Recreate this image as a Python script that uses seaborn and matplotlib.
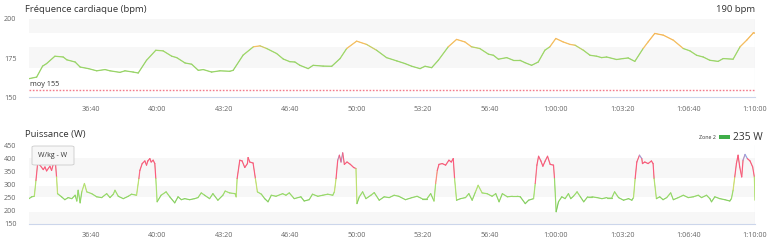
import numpy as np
import pandas as pd
import matplotlib
matplotlib.use("Agg")
import matplotlib.pyplot as plt
import seaborn as sns
from matplotlib.collections import LineCollection
from matplotlib.colors import LinearSegmentedColormap, Normalize
from matplotlib.patches import Rectangle, FancyBboxPatch

# ---------------- data ----------------
hr_time = [2013, 2036, 2054, 2066, 2091, 2116, 2127, 2152, 2167, 2192, 2217, 2242, 2257, 2287,
           2302, 2327, 2342, 2367, 2395, 2417, 2443, 2458, 2483, 2503, 2523, 2538, 2563, 2588,
           2618, 2628, 2658, 2689, 2709, 2729, 2759, 2779, 2799, 2814, 2829, 2854, 2869, 2899,
           2925, 2950, 2970, 3000, 3030, 3060, 3090, 3121, 3146, 3166, 3191, 3206, 3226, 3246,
           3276, 3301, 3326, 3346, 3371, 3397, 3412, 3427, 3452, 3472, 3492, 3507, 3527, 3547,
           3567, 3582, 3600, 3622, 3643, 3658, 3683, 3703, 3723, 3738, 3753, 3783, 3803, 3818,
           3838, 3863, 3878, 3898, 3924, 3954, 3984, 4004, 4024, 4044, 4064, 4089, 4104, 4134,
           4155, 4175, 4195, 4200]
hr_bpm = [162, 163, 170, 171.6, 176.3, 175.8, 174, 172.6, 169.4, 168.4, 167, 167.8, 167, 166,
          167, 166.2, 165.6, 173.7, 180.1, 179.7, 176.3, 175.4, 172, 171.2, 167.3, 167.8, 166.2, 167,
          166.7, 167.3, 177, 182.3, 182.9, 181.2, 178, 174.5, 172.8, 172.6, 170.5, 168.4, 170.5, 170,
          169.9, 174.8, 181.2, 185.9, 183.8, 180.1, 175.4, 173.3, 171.6, 169.9, 168.4, 169.9, 169, 173.7,
          182.3, 187, 185.4, 182.3, 181.2, 177.6, 176.9, 174.4, 175.4, 173.7, 173.7, 172.2, 170.5, 172.6,
          180.1, 182.3, 187.6, 185.4, 183.8, 183.3, 180.1, 176.9, 176.3, 175.4, 175.8, 174.2, 174.8, 175.2,
          173, 181.2, 185.4, 190.8, 189.7, 186.5, 181.2, 179.7, 176.9, 175.8, 173.7, 173, 174.8, 174.4,
          182.3, 186.5, 191.2, 191]

pw_time = [2013, 2021, 2029, 2034, 2039, 2046, 2056, 2061, 2066, 2076, 2081, 2086, 2093, 2096,
           2099, 2111, 2121, 2131, 2142, 2152, 2157, 2161, 2167, 2172, 2180, 2187, 2202, 2217,
           2232, 2247, 2257, 2267, 2272, 2282, 2297, 2312, 2322, 2337, 2344, 2347, 2354, 2362,
           2367, 2371, 2377, 2381, 2387, 2392, 2395, 2399, 2411, 2426, 2437, 2452, 2462, 2472,
           2482, 2497, 2512, 2522, 2532, 2542, 2557, 2567, 2582, 2597, 2604, 2617, 2634, 2637,
           2640, 2648, 2655, 2663, 2671, 2673, 2678, 2688, 2695, 2701, 2713, 2723, 2733, 2743,
           2757, 2777, 2787, 2797, 2812, 2832, 2842, 2857, 2867, 2883, 2898, 2913, 2928, 2933,
           2938, 2943, 2948, 2953, 2958, 2963, 2971, 2981, 2991, 2998, 3001, 3008, 3018, 3028,
           3043, 3053, 3068, 3083, 3098, 3113, 3127, 3147, 3167, 3182, 3197, 3212, 3223, 3233,
           3238, 3243, 3248, 3258, 3268, 3278, 3285, 3291, 3295, 3301, 3313, 3328, 3338, 3348,
           3358, 3366, 3378, 3393, 3408, 3419, 3429, 3439, 3454, 3469, 3484, 3493, 3508, 3518,
           3533, 3538, 3543, 3548, 3555, 3561, 3568, 3575, 3583, 3593, 3596, 3601, 3608, 3618,
           3628, 3638, 3645, 3653, 3664, 3674, 3684, 3696, 3709, 3724, 3739, 3754, 3769, 3777,
           3789, 3804, 3819, 3829, 3834, 3839, 3844, 3852, 3859, 3861, 3868, 3878, 3888, 3893,
           3896, 3903, 3913, 3923, 3934, 3946, 3954, 3969, 3984, 3999, 4014, 4029, 4039, 4054,
           4064, 4069, 4079, 4094, 4109, 4124, 4129, 4134, 4139, 4144, 4149, 4154, 4160, 4164,
           4170, 4177, 4185, 4193, 4198, 4200]
pw_watts = [245, 252, 254, 315, 379, 373, 356, 366, 351, 369, 353, 376, 376, 328,
            264, 252, 241, 249, 245, 258, 236, 277, 229, 271, 303, 271, 264, 252,
            249, 264, 249, 262, 277, 254, 245, 254, 262, 258, 322, 353, 379, 389,
            373, 389, 398, 385, 392, 379, 322, 233, 258, 271, 252, 229, 252, 241,
            245, 241, 245, 249, 267, 258, 245, 264, 239, 258, 274, 267, 264, 252,
            322, 392, 389, 364, 379, 402, 385, 381, 322, 271, 262, 245, 233, 258,
            254, 264, 258, 267, 245, 252, 236, 241, 262, 254, 258, 262, 258, 271,
            322, 392, 411, 385, 420, 376, 385, 376, 364, 360, 226, 252, 271, 245,
            258, 268, 239, 252, 249, 258, 254, 241, 249, 254, 245, 245, 264, 236,
            303, 353, 376, 379, 373, 392, 385, 398, 322, 239, 245, 249, 264, 239,
            271, 296, 267, 264, 254, 264, 233, 264, 252, 254, 254, 252, 226, 239,
            245, 303, 373, 407, 389, 369, 389, 407, 376, 373, 322, 195, 233, 252,
            245, 264, 245, 254, 271, 252, 233, 252, 252, 249, 245, 249, 249, 271,
            249, 239, 245, 239, 249, 322, 385, 411, 398, 379, 385, 379, 389, 379,
            322, 245, 252, 241, 249, 267, 241, 249, 258, 249, 252, 258, 249, 258,
            245, 233, 252, 245, 241, 236, 245, 277, 328, 379, 411, 366, 328, 392,
            414, 398, 389, 366, 328, 239]

hr_avg = 155
hr_current = 190
pw_current = 235
hr_bands = [(191, 200), (168.6, 182)]
pw_bands = [(323, 400), (250, 292), (150, 193)]
x_ticks = list(range(2200, 4201, 200))

hr_df = pd.DataFrame({"t": hr_time, "bpm": hr_bpm})
pw_df = pd.DataFrame({"t": pw_time, "w": pw_watts})

# ---------------- style ----------------
sns.set_theme(style="white")
plt.rcParams['font.family'] = ['Open Sans', 'DejaVu Sans']

W, H = 768, 248
fig = plt.figure(figsize=(W / 100, H / 100), dpi=100)
fig.patch.set_facecolor("white")

def fx(px):
    return px / W

def fy(py):
    return 1 - py / H

ax1 = fig.add_axes([fx(29), fy(97.5), fx(726), 78.5 / H])
ax2 = fig.add_axes([fx(29), fy(223.5), fx(726), 78.5 / H])

def fmt_time(s):
    s = int(s)
    h, m, sec = s // 3600, (s % 3600) // 60, s % 60
    return f"{h}:{m:02d}:{sec:02d}" if h else f"{m}:{sec:02d}"

axis_col = "#ccd6eb"
label_col = "#666666"

# ---- heart rate ----
for lo, hi in hr_bands:
    ax1.axhspan(lo, hi, color="#f7f7f7", lw=0, zorder=0)
ax1.axhline(hr_avg, color="#f47a8a", lw=1.0, ls=(0, (1.2, 1.2)), zorder=2)
ax1.text(2015, hr_avg + 1.2, f"moy {hr_avg}", fontsize=5.2, color="#333333",
         va="bottom", ha="left")

sns.lineplot(data=hr_df, x="t", y="bpm", ax=ax1, color="#9ad66a", lw=0.3, zorder=3)
hr_t = np.array(hr_time, dtype=float)
hr_v = np.array(hr_bpm, dtype=float)
hr_cmap = LinearSegmentedColormap.from_list(
    "hr", [(0, "#99d469"), (0.47, "#a2d86a"), (0.53, "#f8c064"), (1, "#fab252")])
segs = np.stack([np.column_stack([hr_t[:-1], hr_v[:-1]]),
                 np.column_stack([hr_t[1:], hr_v[1:]])], axis=1)
lc = LineCollection(segs, cmap=hr_cmap, norm=Normalize(172, 192), lw=0.9, zorder=4,
                    capstyle="round")
lc.set_array((hr_v[:-1] + hr_v[1:]) / 2)
ax1.add_collection(lc)
ax1.set_ylim(150, 200)
ax1.set_yticks([150, 175, 200])

# ---- power ----
for lo, hi in pw_bands:
    ax2.axhspan(lo, hi, color="#f7f7f7", lw=0, zorder=0)
sns.lineplot(data=pw_df, x="t", y="w", ax=ax2, color="#8fd46a", lw=0.3, zorder=3)
pw_t = np.array(pw_time, dtype=float)
pw_v = np.array(pw_watts, dtype=float)
lo_, hi_ = 190, 420

def pos(v):
    return (v - lo_) / (hi_ - lo_)

pw_cmap = LinearSegmentedColormap.from_list("pw", [
    (pos(190), "#f0d060"), (pos(205), "#7cc85e"), (pos(235), "#84ce62"),
    (pos(275), "#a8e272"), (pos(300), "#c8e070"), (pos(318), "#fdc466"),
    (pos(333), "#ff6d8a"), (pos(350), "#fd5a7e"), (pos(398), "#fb5a7c"),
    (pos(406), "#9aa4e6"), (pos(420), "#8e9ae2")])
segs2 = np.stack([np.column_stack([pw_t[:-1], pw_v[:-1]]),
                  np.column_stack([pw_t[1:], pw_v[1:]])], axis=1)
lc2 = LineCollection(segs2, cmap=pw_cmap, norm=Normalize(lo_, hi_), lw=0.85, zorder=4,
                     capstyle="round")
lc2.set_array((pw_v[:-1] + pw_v[1:]) / 2)
ax2.add_collection(lc2)
ax2.set_ylim(150, 450)
ax2.set_yticks([150, 200, 250, 300, 350, 400, 450])

for ax in (ax1, ax2):
    ax.set_facecolor("white")
    for sp in ["top", "right", "left"]:
        ax.spines[sp].set_visible(False)
    ax.spines["bottom"].set_color(axis_col)
    ax.spines["bottom"].set_linewidth(0.8)
    ax.set_xlim(2013, 4200)
    ax.set_xticks(x_ticks)
    ax.set_xticklabels([fmt_time(t) for t in x_ticks])
    ax.tick_params(axis="x", length=4, width=0.8, color=axis_col, labelsize=5.2,
                   labelcolor=label_col, pad=2, direction="out")
    ax.tick_params(axis="y", length=0, labelsize=5.2, labelcolor=label_col, pad=9)
    ax.grid(False)
    ax.axvline(4200, color="#d8dde8", lw=0.8, zorder=1)
    ax.set_xlabel("")
    ax.set_ylabel("")

# ---- titles and readouts ----
fig.text(fx(25), fy(10), "Fréquence cardiaque (bpm)", fontsize=6.8, color="#333333",
         va="center", ha="left")
fig.text(fx(755), fy(10), f"{hr_current} bpm", fontsize=6.8, color="#333333",
         va="center", ha="right")
fig.text(fx(25), fy(135), "Puissance (W)", fontsize=6.8, color="#333333",
         va="center", ha="left")
fig.text(fx(733), fy(137), f"{pw_current} W", fontsize=7.4, color="#333333",
         va="center", ha="left")
fig.patches.append(Rectangle((fx(719), fy(139)), fx(11), 4 / H, transform=fig.transFigure,
                             facecolor="#3fae49", edgecolor="none"))
fig.text(fx(716), fy(137.5), "Zone 2", fontsize=3.8, color="#333333", va="center", ha="right")

# button
fig.patches.append(FancyBboxPatch((fx(32), fy(165)), fx(42), 19 / H, transform=fig.transFigure,
                                  boxstyle="round,pad=0,rounding_size=0.004",
                                  facecolor="#f7f7f7", edgecolor="#cccccc", lw=0.6, zorder=10))
fig.text(fx(53), fy(155.5), "W/kg - W", fontsize=5.0, color="#333333", va="center",
         ha="center", zorder=11)

fig.savefig("out.png", dpi=100, facecolor="white")
